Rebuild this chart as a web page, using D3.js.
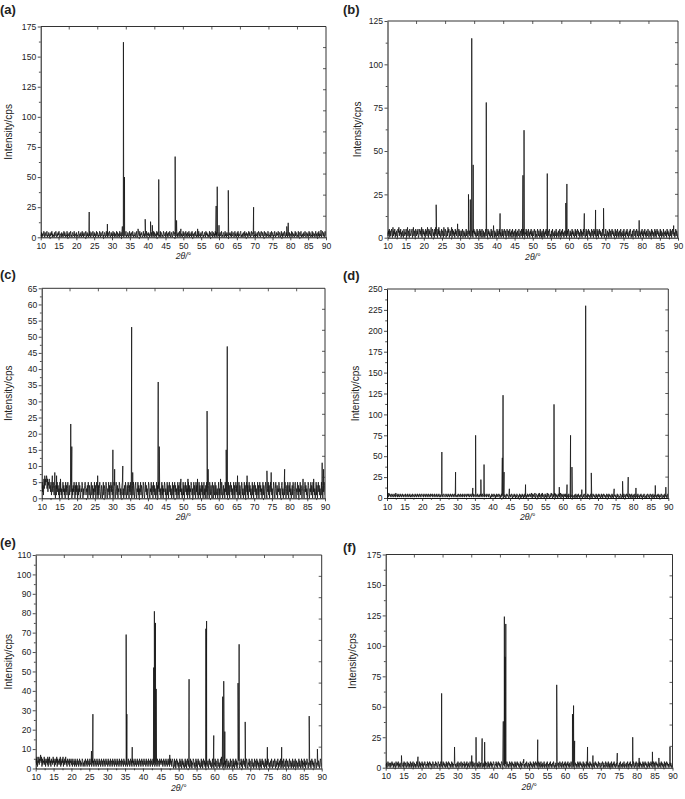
<!DOCTYPE html>
<html>
<head>
<meta charset="utf-8">
<script src="https://cdn.jsdelivr.net/npm/d3@7"></script>
<style>
body { margin: 0; background: #fff; }
svg text { font-family: "Liberation Sans", Arial, sans-serif; fill: #222; }
</style>
</head>
<body>
<div id="fig"></div>
<script>
// 2theta ticks, same for every pattern
const xTicks = [10, 15, 20, 25, 30, 35, 40, 45, 50, 55, 60, 65, 70, 75, 80, 85, 90];

const yTicksA = [0, 25, 50, 75, 100, 125, 150, 175];
const yTicksB = [0, 25, 50, 75, 100, 125];
const yTicksC = [0, 5, 10, 15, 20, 25, 30, 35, 40, 45, 50, 55, 60, 65];
const yTicksD = [0, 25, 50, 75, 100, 125, 150, 175, 200, 225, 250];
const yTicksE = [0, 10, 20, 30, 40, 50, 60, 70, 80, 90, 100, 110];
const yTicksF = [0, 25, 50, 75, 100, 125, 150, 175];

// peaks [2theta, cps]
const peaksA = [[23.6, 21], [28.7, 11], [32.9, 9], [33.2, 162], [33.5, 50], [37.3, 7], [39.3, 15], [40.8, 13],
  [41.3, 10], [43.1, 48], [47.7, 67], [48.1, 14], [49.3, 7], [54, 7], [59.2, 26], [59.5, 42], [60, 10],
  [62.6, 39], [69.7, 25], [79, 9], [79.4, 12], [88.6, 6]];
const peaksB = [[23.4, 19], [29.3, 8], [32.3, 25], [32.8, 22], [33.2, 115], [33.6, 42], [37.2, 78], [39.2, 7],
  [41, 14], [47.3, 36], [47.6, 62], [54, 37], [59.1, 20], [59.4, 31], [64.2, 14], [67.3, 16], [69.5, 17],
  [79.3, 10], [88.8, 7]];
const peaksC = [[11.5, 6], [13, 7], [13.7, 8], [14.2, 7], [15.3, 6], [18.2, 23], [18.5, 16], [25.8, 7],
  [30.1, 15], [30.6, 9], [32.9, 10], [35.4, 53], [35.7, 8], [42.9, 36], [43.2, 16], [49.3, 6], [51.3, 6],
  [54, 6], [56.7, 27], [57, 9], [60.5, 6], [62.1, 15], [62.4, 47], [65.3, 7], [68, 7], [73.6, 8.5],
  [74.8, 8], [78.6, 9], [83.8, 6], [86.8, 6], [89.2, 11], [89.6, 9]];
const peaksD = [[25.6, 55], [29.5, 31], [34.4, 12], [35.2, 75], [36.7, 22], [37.6, 40], [42.8, 48], [43, 123],
  [43.3, 31], [44.8, 11], [49.4, 16], [57.5, 112], [59, 13], [61.2, 16], [62.2, 75], [62.6, 37], [65.4, 10],
  [66.5, 230], [68.1, 30], [74.6, 11], [77, 20], [78.6, 25], [80.8, 12], [86.3, 15], [89.3, 13]];
const peaksE = [[25.6, 9], [26, 28], [35.3, 69], [35.5, 28], [37, 11], [43, 52], [43.2, 81], [43.5, 75],
  [43.7, 41], [47.5, 7], [52.9, 46], [57.6, 72], [57.8, 76], [59.8, 17], [62.3, 37], [62.6, 45], [62.9, 19],
  [66.6, 44], [66.9, 64], [68.6, 24], [74.8, 11], [78.8, 11], [86.5, 27], [88.8, 10]];
const peaksF = [[14.4, 10], [19, 9], [25.6, 61], [29.2, 17], [34, 10], [35.2, 25], [36.9, 24], [37.6, 21],
  [42.8, 38], [43.1, 124], [43.3, 91], [43.5, 118], [48.5, 7], [52.4, 23], [57.7, 68], [62.1, 44],
  [62.4, 51], [62.7, 22], [66.3, 17], [67.8, 10], [74.6, 12], [78.9, 25], [80.7, 8], [84.4, 13],
  [86.2, 8], [89.3, 17]];

// background counts, one digit per step, spread evenly from 10 to 90 deg
const noiseA = "21403125304213502142031425031204135203142501320413025143021503124035120431250321" +
  "40213502314025130421350241302153042135024130251430215304213502143025130421530241" +
  "30521403125042130521403215042135021430251304215302143025103421503241025130421503" +
  "24130251403215042130524130215043120532140251304215302410352143025130421502413025" +
  "14302513042150321405213024153021405213042153021430524130215042135024130521403215" +
  "03412502143025130421503241305214302513024150321450213042150324130251420351243021" +
  "50312403521402531420351240321530214025134021530241325014302513042153024130521403" +
  "21504213025143021503412502130421530241302514302150421302513024150321403521402531";
const noiseB = "31425041352061425031420536142503142054132503614205312450361420531425013524160352" +
  "41305241630524136025413052614305261430251430621530241635024136052413052413602514" +
  "20413502413025143052413025140352413025143025140352041302514305241302514035204130" +
  "25143052130251403521402531402513042503142051304215302415302514032514025130425130" +
  "41253041205314205130420513042513024153021405213042150321402513042513024153024153" +
  "02413052413025140352413025140325143025140352413025143052413025140352413025143021" +
  "53024130521403524130251402513042150321405213042513024153021403521402531402513042" +
  "51304251304215302413052413025140352413025140321503241305241302514035241302514302";
const noiseC = "35241637465736254634251342531420413524130524130352413052413502413524031425304152" +
  "40315240132540312453132405314203512403152403512041352014302514302541032514035241" +
  "30254103521403254130245130241530241530425130241530245103251403251430254103524130" +
  "25410325143052413025140352413025140325413025140352413025140352413025140352413025" +
  "14035241302514032541302514305241302514032514025130425031420531420530421504213025" +
  "13042153024130524130251403524130251403524130251430254130251403521403524130251403" +
  "52413025140352413025143025410325140352413025410352140325413024513024153024153042" +
  "51302415302451032514032514302541035241302541032514305241302514035241302514032541";
const noiseD = "52416352413524135241632415241352413524134251342513425132415324135241352413524135" +
  "32415324153241532415342513425134251342512413524135421352413524135241352413524132" +
  "41532415324153241532415342513425134251342513425132415324153241532415324153203152" +
  "41352403152413524031524302514302524310524135204315240315420315240315240315240315" +
  "24135241630524136025413052614305261430251430621530241635024136052413052413602514" +
  "30524153021405213042150321402513042513024153024153024130524130251403524130251403" +
  "25143025140352413025143052413025140352413025143021530241305214035241302514025130" +
  "42150321405213042513024153021403521402531402513042513042513042153024130524130251";
const noiseE = "35261436254736152436251435261536241534263514253615243526142536142536241534251435" +
  "24153241524135241352413254132415324153241532415324135241352413524135241352413524" +
  "31524315243152431524315243152431524315243152413524135241352413524135241352413524" +
  "13524315243152431524315243152431524315243524135241352413524135241543025140352413" +
  "02514305241302514035241302514032541302514035241302514035241302513403524130251403" +
  "25143025413025162403152041350241302514302514032514032541032514035241302541032514" +
  "30254130251430524130251403524130251403254130241530241352041325031425031420531240" +
  "53142035124031520413502413025143025140325140325410325140352413025410325143025413";
const noiseF = "31402531420413524031420531425031420531240531420351240315204135024130251430251403" +
  "25140325410325140352413025410325143025413025143052413025140352413025140325413024" +
  "15302413520413250314250314205312405314203512403152041350241302514302514032514032" +
  "54103251403524130254103251430254130251430524130251403524130251403254130241530241" +
  "30524130251403524130251402513042150321405213042513024153021403521402531402513042" +
  "51304251304215302413052413025140352413025140321503241305241302514035241302514302" +
  "41253041205314205130420513042513024153021405213042150321402513042513024153024153" +
  "02413052413025140352413025140325143025140352413025143052413025140352413025143021";

const panels = [
  { name: "(a)", peaks: peaksA, noise: noiseA, yTicks: yTicksA, x0: 40.7, x1: 326, y0: 26.5, y1: 237.3, lx: 0, ly: 14, tx: 8 },
  { name: "(b)", peaks: peaksB, noise: noiseB, yTicks: yTicksB, x0: 387.5, x1: 678, y0: 21, y1: 237.7, lx: 343, ly: 14, tx: 357 },
  { name: "(c)", peaks: peaksC, noise: noiseC, yTicks: yTicksC, x0: 41.7, x1: 325, y0: 288.3, y1: 498.3, lx: 0, ly: 279, tx: 8 },
  { name: "(d)", peaks: peaksD, noise: noiseD, yTicks: yTicksD, x0: 387, x1: 668.3, y0: 289, y1: 498, lx: 343, ly: 280, tx: 355 },
  { name: "(e)", peaks: peaksE, noise: noiseE, yTicks: yTicksE, x0: 35.7, x1: 321.7, y0: 555, y1: 768.5, lx: 0, ly: 547, tx: 8 },
  { name: "(f)", peaks: peaksF, noise: noiseF, yTicks: yTicksF, x0: 385.7, x1: 672.5, y0: 554.5, y1: 767.7, lx: 343, ly: 552, tx: 352 }
];

function buildSeries(noise, peaks) {
  const counts = noise.split("").map(Number);
  const n = counts.length;
  const pts = counts.map((v, i) => ({ x: 10 + i * 80 / (n - 1), y: v }));
  peaks.forEach(p => pts.push({ x: p[0], y: p[1] }));
  pts.sort((a, b) => a.x - b.x);
  return pts;
}

const svg = d3.select("#fig").append("svg")
  .attr("width", 685)
  .attr("height", 799);

const xMinor = xTicks.slice(1).map((t, i) => (t + xTicks[i]) / 2);

panels.forEach((p, k) => {
  const yMax = p.yTicks[p.yTicks.length - 1];
  const x = d3.scaleLinear().domain([10, 90]).range([p.x0, p.x1]);
  const y = d3.scaleLinear().domain([0, yMax]).range([p.y1, p.y0]);
  const g = svg.append("g");

  g.append("clipPath").attr("id", "clip" + k)
    .append("rect")
    .attr("x", p.x0).attr("y", p.y0)
    .attr("width", p.x1 - p.x0).attr("height", p.y1 - p.y0);

  const line = d3.line().x(d => x(d.x)).y(d => y(d.y));
  g.append("path")
    .datum(buildSeries(p.noise, p.peaks))
    .attr("clip-path", "url(#clip" + k + ")")
    .attr("d", line)
    .attr("fill", "none")
    .attr("stroke", "#141414")
    .attr("stroke-width", 0.8);

  // frame top and right with inward ticks
  g.append("path")
    .attr("d", `M${p.x0},${p.y0}H${p.x1}V${p.y1}`)
    .attr("fill", "none").attr("stroke", "#333").attr("stroke-width", 1);
  const topT = d3.range(1, 10).map(i => 10 + i * 8);
  g.selectAll(".tt").data(topT).join("line")
    .attr("x1", d => x(d)).attr("x2", d => x(d))
    .attr("y1", p.y0).attr("y2", p.y0 + 3)
    .attr("stroke", "#333").attr("stroke-width", 0.8);
  const rightT = d3.range(1, 10).map(i => yMax * i / 10);
  g.selectAll(".rt").data(rightT).join("line")
    .attr("x1", p.x1).attr("x2", p.x1 - 3)
    .attr("y1", d => y(d)).attr("y2", d => y(d))
    .attr("stroke", "#333").attr("stroke-width", 0.8);

  // bottom axis
  g.append("g").attr("transform", `translate(0,${p.y1})`)
    .call(d3.axisBottom(x).tickValues(xTicks).tickSize(3).tickPadding(2.5).tickSizeOuter(0));
  g.append("g").attr("transform", `translate(0,${p.y1})`)
    .call(d3.axisBottom(x).tickValues(xMinor).tickSize(1.8).tickFormat("").tickSizeOuter(0))
    .select(".domain").remove();

  // left axis
  const yMinor = p.yTicks.slice(1).map((t, i) => (t + p.yTicks[i]) / 2);
  g.append("g").attr("transform", `translate(${p.x0},0)`)
    .call(d3.axisLeft(y).tickValues(p.yTicks).tickSize(3).tickPadding(1.5).tickSizeOuter(0));
  g.append("g").attr("transform", `translate(${p.x0},0)`)
    .call(d3.axisLeft(y).tickValues(yMinor).tickSize(1.8).tickFormat("").tickSizeOuter(0))
    .select(".domain").remove();

  g.selectAll(".domain").attr("stroke", "#111").attr("stroke-width", 1);
  g.selectAll(".tick line").attr("stroke", "#222").attr("stroke-width", 0.8);
  g.selectAll(".tick text").attr("font-size", "8.6px")
    .attr("font-family", "'Liberation Sans', Arial, sans-serif").attr("fill", "#222");

  // titles
  g.append("text")
    .attr("x", p.lx).attr("y", p.ly)
    .attr("font-size", "13px").attr("font-weight", "bold")
    .attr("fill", "#111")
    .text(p.name);

  g.append("text")
    .attr("transform", `translate(${p.tx + 3.5},${(p.y0 + p.y1) / 2}) rotate(-90)`)
    .attr("text-anchor", "middle")
    .attr("font-size", "10px")
    .text("Intensity/cps");

  g.append("text")
    .attr("x", (p.x0 + p.x1) / 2).attr("y", p.y1 + 22)
    .attr("text-anchor", "middle")
    .attr("font-size", "8.6px")
    .attr("font-style", "italic")
    .text("2θ/°");
});
</script>
</body>
</html>
